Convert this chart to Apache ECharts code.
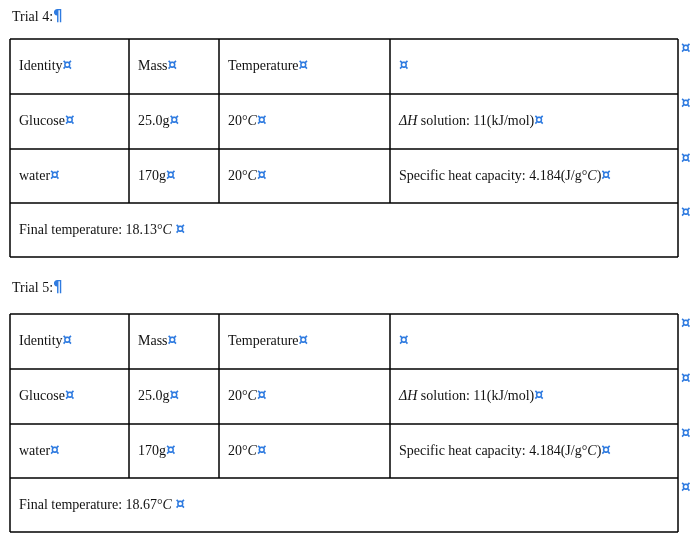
<!DOCTYPE html>
<html><head><meta charset="utf-8">
<script src="https://cdn.jsdelivr.net/npm/echarts@6/dist/echarts.min.js"></script>
<style>html,body{margin:0;background:#fff}#c{width:700px;height:545px}</style>
</head><body><div id="c"></div>
<script>
const trialLabels = ["Trial 4:", "Trial 5:"];
const headerRow = ["Identity", "Mass", "Temperature", ""];
const glucoseRow = ["Glucose", "25.0g", "20°{i|C}", "{i|ΔH} solution: 11(kJ/{u|mol})"];
const waterRow = ["water", "170g", "20°{i|C}", "Specific heat capacity: 4.184(J/g°{i|C})"];
const finalTemps = ["18.13", "18.67"];

const tables = [{labelY:17, top:39, rows:[39,94,149,203,257]},
                {labelY:288, top:314, rows:[314,369,424,478,532]}];
const colX = [10,129,219,390,678];
const blue = '#2f7be0';
const rich = {i:{fontStyle:'italic',fontFamily:'Liberation Serif',fontSize:14,fill:'#111'},
              u:{fontFamily:'Liberation Serif',fontSize:14,fill:'#111',textDecoration:'underline'},
              m:{fill:blue,fontSize:15,fontWeight:'bold',fontFamily:'DejaVu Sans'}};
const els = [];
function txt(x,y,s){els.push({type:'text',x:x,y:y,style:{text:s,rich:rich,font:'14px "Liberation Serif"',fill:'#111',textVerticalAlign:'middle'}});}
function line(x1,y1,x2,y2){els.push({type:'line',shape:{x1,y1,x2,y2},style:{stroke:'#000',lineWidth:1.5}});}
tables.forEach((t,ti)=>{
  txt(12,t.labelY, trialLabels[ti]+'{m|¶}');
  const r=t.rows;
  for(let k=0;k<r.length;k++) line(colX[0],r[k],colX[4],r[k]);
  line(colX[0],r[0],colX[0],r[4]); line(colX[4],r[0],colX[4],r[4]);
  for(let c=1;c<4;c++) line(colX[c],r[0],colX[c],r[3]);
  [headerRow,glucoseRow,waterRow].forEach((row,ri)=>{
    const cy=(r[ri]+r[ri+1])/2;
    row.forEach((s,ci)=>txt(colX[ci]+9,cy,s+'{m|¤}'));
  });
  txt(colX[0]+9,(r[3]+r[4])/2,'Final temperature: '+finalTemps[ti]+'°{i|C} {m|¤}');
  for(let k=0;k<4;k++) txt(681,r[k]+10,'{m|¤}');
});
const ch=echarts.init(document.getElementById('c'));
ch.setOption({animation:false,graphic:{elements:els}});
</script></body></html>
